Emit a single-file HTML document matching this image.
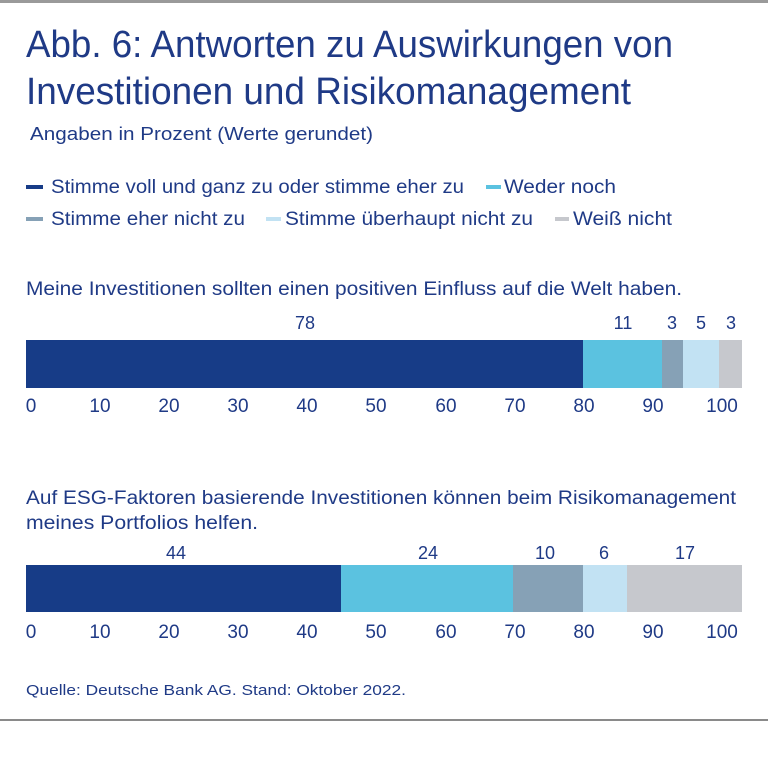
<!DOCTYPE html>
<html><head><meta charset="utf-8"><style>
html,body{margin:0;padding:0;background:#fff}
svg{display:block}
text{font-family:"Liberation Sans Narrow","Liberation Sans",sans-serif;fill:#1f3a86}
</style></head><body>
<svg width="768" height="782" viewBox="0 0 768 782" xmlns="http://www.w3.org/2000/svg">
<rect x="0" y="0" width="768" height="3" fill="#9a9a9a"/>
<text x="26" y="57" font-size="38" textLength="647" lengthAdjust="spacingAndGlyphs">Abb. 6: Antworten zu Auswirkungen von</text>
<text x="26" y="104" font-size="38" textLength="605" lengthAdjust="spacingAndGlyphs">Investitionen und Risikomanagement</text>
<text x="30" y="140" font-size="18" textLength="343" lengthAdjust="spacingAndGlyphs">Angaben in Prozent (Werte gerundet)</text>

<rect x="26" y="185" width="17" height="4" fill="#173c87"/>
<text x="51" y="193" font-size="19" textLength="413" lengthAdjust="spacingAndGlyphs">Stimme voll und ganz zu oder stimme eher zu</text>
<rect x="486" y="185" width="15" height="4" fill="#5bc2e0"/>
<text x="504" y="193" font-size="19" textLength="112" lengthAdjust="spacingAndGlyphs">Weder noch</text>
<rect x="26" y="217" width="17" height="4" fill="#86a1b6"/>
<text x="51" y="225" font-size="19" textLength="194" lengthAdjust="spacingAndGlyphs">Stimme eher nicht zu</text>
<rect x="266" y="217" width="15" height="4" fill="#c2e2f3"/>
<text x="285" y="225" font-size="19" textLength="248" lengthAdjust="spacingAndGlyphs">Stimme überhaupt nicht zu</text>
<rect x="555" y="217" width="14" height="4" fill="#c6c8cd"/>
<text x="573" y="225" font-size="19" textLength="99" lengthAdjust="spacingAndGlyphs">Weiß nicht</text>

<text x="26" y="295" font-size="19" textLength="656" lengthAdjust="spacingAndGlyphs">Meine Investitionen sollten einen positiven Einfluss auf die Welt haben.</text>
<g font-size="18" text-anchor="middle">
<text x="305" y="329">78</text><text x="623" y="329">11</text><text x="672" y="329">3</text><text x="701" y="329">5</text><text x="731" y="329">3</text>
</g>
<rect x="26" y="340" width="557" height="48" fill="#173c87"/>
<rect x="583" y="340" width="79" height="48" fill="#5bc2e0"/>
<rect x="662" y="340" width="21" height="48" fill="#86a1b6"/>
<rect x="683" y="340" width="36" height="48" fill="#c2e2f3"/>
<rect x="719" y="340" width="23" height="48" fill="#c6c8cd"/>
<g font-size="19" text-anchor="middle">
<text x="31" y="412">0</text><text x="100" y="412">10</text><text x="169" y="412">20</text><text x="238" y="412">30</text><text x="307" y="412">40</text><text x="376" y="412">50</text><text x="446" y="412">60</text><text x="515" y="412">70</text><text x="584" y="412">80</text><text x="653" y="412">90</text><text x="722" y="412">100</text>
</g>

<text x="26" y="504" font-size="19" textLength="710" lengthAdjust="spacingAndGlyphs">Auf ESG-Faktoren basierende Investitionen können beim Risikomanagement</text>
<text x="26" y="529" font-size="19" textLength="232" lengthAdjust="spacingAndGlyphs">meines Portfolios helfen.</text>
<g font-size="18" text-anchor="middle">
<text x="176" y="559">44</text><text x="428" y="559">24</text><text x="545" y="559">10</text><text x="604" y="559">6</text><text x="685" y="559">17</text>
</g>
<rect x="26" y="565" width="315" height="47" fill="#173c87"/>
<rect x="341" y="565" width="172" height="47" fill="#5bc2e0"/>
<rect x="513" y="565" width="70" height="47" fill="#86a1b6"/>
<rect x="583" y="565" width="44" height="47" fill="#c2e2f3"/>
<rect x="627" y="565" width="115" height="47" fill="#c6c8cd"/>
<g font-size="19" text-anchor="middle">
<text x="31" y="638">0</text><text x="100" y="638">10</text><text x="169" y="638">20</text><text x="238" y="638">30</text><text x="307" y="638">40</text><text x="376" y="638">50</text><text x="446" y="638">60</text><text x="515" y="638">70</text><text x="584" y="638">80</text><text x="653" y="638">90</text><text x="722" y="638">100</text>
</g>
<text x="26" y="695" font-size="15" textLength="380" lengthAdjust="spacingAndGlyphs">Quelle: Deutsche Bank AG. Stand: Oktober 2022.</text>
<rect x="0" y="719" width="768" height="2" fill="#8a8a8a"/>
</svg>
</body></html>
